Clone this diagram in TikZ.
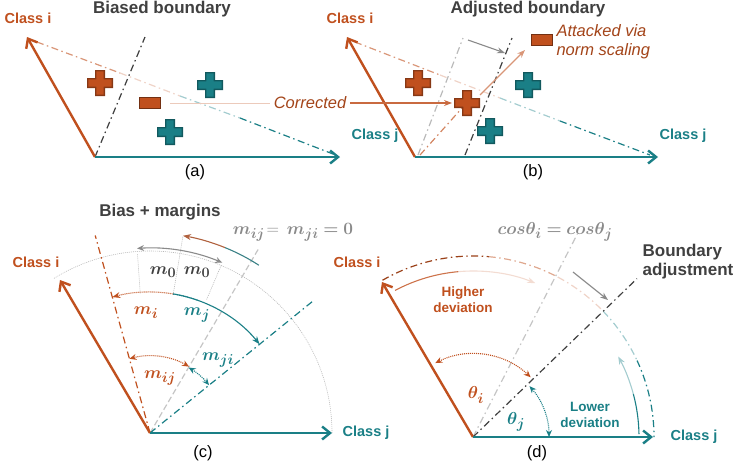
\documentclass[tikz,border=0pt]{standalone}
\usepackage{fontspec}
\setmainfont{Liberation Sans}
\usepackage{amsmath,bm}
\usetikzlibrary{arrows.meta,calc}
\definecolor{cor}{HTML}{C0501E}
\definecolor{ctl}{HTML}{1A7F86}
\definecolor{cdk}{HTML}{404040}
\definecolor{cgr}{HTML}{8A8A8A}
\begin{document}
\begin{tikzpicture}[x=1pt,y=-1pt,
 vec/.style={line width=2.4pt,-{Straight Barb[length=8pt,width=13pt]}},
 dd/.style={dash pattern=on 7pt off 3.5pt on 1.5pt off 3.5pt,line width=1.2pt},
 lbl/.style={font=\bfseries\fontsize{14.5}{15}\selectfont},
 ttl/.style={font=\bfseries\fontsize{17}{19}\selectfont,text=cdk},
 subcap/.style={font=\fontsize{16.5}{17}\selectfont},
 it/.style={font=\itshape\fontsize{16.5}{19}\selectfont,text=cor!85!black,align=left},
 mth/.style={font=\fontsize{19}{20}\selectfont},
 arr/.style={line width=1.1pt,-{Stealth[length=8pt,width=6pt]}},
 darr/.style={line width=1.1pt,{Stealth[length=7pt,width=6pt]}-{Stealth[length=7pt,width=6pt]}},
 dot/.style={dash pattern=on 1pt off 1pt}]
\useasboundingbox (0,0) rectangle (741,464);
\newcommand{\plusat}[3]{\fill[#2!70!black] ($(#1)+(-13,-5)$) -- ++(8,0) -- ++(0,-8) -- ++(10,0) -- ++(0,8) -- ++(8,0) -- ++(0,10) -- ++(-8,0) -- ++(0,8) -- ++(-10,0) -- ++(0,-8) -- ++(-8,0) -- cycle;
 \fill[#2] ($(#1)+(-11.6,-3.6)$) -- ++(8,0) -- ++(0,-8) -- ++(7.2,0) -- ++(0,8) -- ++(8,0) -- ++(0,7.2) -- ++(-8,0) -- ++(0,8) -- ++(-7.2,0) -- ++(0,-8) -- ++(-8,0) -- cycle;\node[#3] at (#1) {};}
\newcommand{\minusat}[1]{\draw[fill=cor,draw=cor!60!black,line width=0.8pt] ($(#1)+(-10.5,-5.5)$) rectangle ($(#1)+(10.5,5.5)$);}
% ---------- (a)
\coordinate (oa) at (95,157);
\coordinate (ia) at (27,37);
\coordinate (ja) at (340,157);
\node[ttl] (ta) at (162,9) {Biased boundary};
\node[lbl,text=cor] (lia) at (28,18) {Class i};
\node[lbl,text=ctl] (lja) at (375,136) {Class j};
\node[subcap] (ca) at (195,172) {(a)};
\draw[dd,cor!60] (37,42) -- (120,73);
\draw[dd,cor!25] (120,73) -- (180,96);
\draw[dd,ctl!40] (180,96) -- (240,118);
\draw[dd,ctl] (240,118) -- (333,154);
\draw[dd,cdk] (oa) -- (145,37);
\draw[vec,cor] (oa) -- (ia);
\draw[vec,ctl] (oa) -- (ja);
\plusat{100,83}{cor}{}
\minusat{150,103}
\plusat{210,85}{ctl}{}
\plusat{170,132}{ctl}{}
\node[it] (corr) at (310,103) {Corrected};
\draw[cor!30,line width=1pt] (170,103) -- (corr.west);
% ---------- (b)
\coordinate (ob) at (415,157);
\coordinate (ib) at (347,37);
\coordinate (jb) at (658,157);
\node[ttl] (tb) at (528,9) {Adjusted boundary};
\node[lbl,text=cor] (lib) at (350,18) {Class i};
\node[lbl,text=ctl] (ljb) at (683,136) {Class j};
\node[subcap] (cb) at (533,172) {(b)};
\draw[dd,cor!60] (355,42) -- (440,75);
\draw[dd,cor!25] (440,75) -- (500,98);
\draw[dd,ctl!40] (500,98) -- (560,121);
\draw[dd,ctl] (560,121) -- (650,155);
\draw[dd,cgr!60] (418,155) -- (463,38);
\draw[dd,cdk] (465,155) -- (512,38);
\draw[arr,cgr] (468,40) -- (505,53);
\draw[dd,cor!70] (420,155) -- (462,108);
\draw[arr,cor!60] (480,95) -- (525,50);
\draw[vec,cor] (ob) -- (ib);
\draw[vec,ctl] (ob) -- (jb);
\plusat{418,83}{cor}{}
\plusat{467,103}{cor}{}
\plusat{528,85}{ctl}{}
\plusat{490,131}{ctl}{}
\minusat{542,40}
\node[it,anchor=west] (att) at (553,42) {Attacked via\\norm scaling};
\draw[arr,cor!85] (corr.east) -- (452,103);
% ---------- (c)
\coordinate (oc) at (150,433);
\coordinate (ic) at (60,280);
\coordinate (jc) at (332,433);
\node[ttl] (tc) at (160,212) {Bias + margins};
\node[lbl,text=cor] (lic) at (36,262) {Class i};
\node[lbl,text=ctl] (ljc) at (366,433) {Class j};
\node[subcap] (cc) at (203,453) {(c)};
\draw[cgr!60,dot,line width=0.6pt] (jc) arc[start angle=0,end angle=-122,radius=182];
\draw[dd,cor] (oc) -- ++(-105.5:205);
\draw[dash pattern=on 6pt off 3pt,cgr!50,line width=1.2pt] (oc) -- ++(-59.5:215);
\draw[dd,ctl] (oc) -- ++(-39:212);
\draw[cgr!60,dot,line width=0.6pt] ($(oc)+(-94:140)$) -- ($(oc)+(-94:180)$);
\draw[cgr!60,dot,line width=0.6pt] ($(oc)+(-80.5:140)$) -- ($(oc)+(-80.5:200)$);
\draw[cgr!60,dot,line width=0.6pt] ($(oc)+(-67:145)$) -- ($(oc)+(-67:182)$);
\draw[darr,cgr] (oc) ++(-94:185) arc[start angle=-94,end angle=-67,radius=185];
\node[mth,text=cdk] (m0a) at (163,272) {$\bm{m_0}$};
\node[mth,text=cdk] (m0b) at (197,272) {$\bm{m_0}$};
\draw[line width=1.1pt,ctl!70!cgr] (oc) ++(-57:200) arc[start angle=-57,end angle=-68,radius=200];
\draw[arr,cor!70!cgr] (oc) ++(-68:200) arc[start angle=-68,end angle=-80.5,radius=200];
\node[mth,text=cgr] (mz) at (293,232) {$\bm{m_{ij}}\!=\,\bm{m_{ji}=0}$};
\draw[arr,cor,dot] (oc) ++(-80.5:141) arc[start angle=-80.5,end angle=-105.5,radius=141];
\draw[arr,ctl] (oc) ++(-80.5:141) arc[start angle=-80.5,end angle=-39,radius=141];
\draw[ctl,dot,line width=1.1pt] (oc) ++(-80.5:141) arc[start angle=-80.5,end angle=-70,radius=141];
\node[mth,text=cor] (mi) at (146,313) {$\bm{m_i}$};
\node[mth,text=ctl] (mj) at (197,315) {$\bm{m_j}$};
\draw[darr,cor,dot] (oc) ++(-105.5:77) arc[start angle=-105.5,end angle=-59.5,radius=77];
\draw[darr,ctl,dot] (oc) ++(-59.5:76) arc[start angle=-59.5,end angle=-39,radius=76];
\node[mth,text=cor] (mij) at (160,378) {$\bm{m_{ij}}$};
\node[mth,text=ctl] (mji) at (218,360) {$\bm{m_{ji}}$};
\draw[vec,cor] (oc) -- (ic);
\draw[vec,ctl] (oc) -- (jc);
% ---------- (d)
\coordinate (od) at (473,437);
\coordinate (id) at (382,282);
\coordinate (jd) at (653,437);
\node[lbl,text=cor,anchor=east] (lid) at (384,262) {Class i};
\node[lbl,text=ctl] (ljd) at (694,437) {Class j};
\node[subcap] (cd) at (537,453) {(d)};
\draw[dd,cor!80!black] (od) ++(-120:181) arc[start angle=-120,end angle=-85,radius=181];
\draw[dd,cor!50] (od) ++(-85:181) arc[start angle=-85,end angle=-62,radius=181];
\draw[dd,cor!25] (od) ++(-62:181) arc[start angle=-62,end angle=-44,radius=181];
\draw[dd,ctl!40] (od) ++(-44:181) arc[start angle=-44,end angle=-25,radius=181];
\draw[dd,ctl] (od) ++(-25:181) arc[start angle=-25,end angle=0,radius=181];
\draw[dd,cgr!50] (od) -- ++(-62.8:228);
\draw[dd,cdk] (od) -- ++(-44:228);
\node[mth,text=cgr] (cos) at (555,232) {$\bm{cos\theta_i=cos\theta_j}$};
\node[ttl,align=left] (ba) at (688,262) {Boundary\\adjustment};
\draw[arr,cgr] (573,272) -- (608,300);
\draw[line width=1.1pt,cor!80] (od) ++(-118:166) arc[start angle=-118,end angle=-95,radius=166];
\draw[arr,cor!20] (od) ++(-95:166) arc[start angle=-95,end angle=-68,radius=166];
\node[text=cor,align=center,font=\bfseries\fontsize{13.5}{16}\selectfont] (hd) at (463,300) {Higher\\deviation};
\draw[line width=1.1pt,ctl] (od) ++(-1:166) arc[start angle=-1,end angle=-15,radius=166];
\draw[arr,ctl!40] (od) ++(-15:166) arc[start angle=-15,end angle=-29,radius=166];
\node[text=ctl,align=center,font=\bfseries\fontsize{13.5}{16}\selectfont] (ld) at (590,415) {Lower\\deviation};
\draw[darr,cor,dot] (od) ++(-117:83) arc[start angle=-117,end angle=-46,radius=83];
\draw[darr,ctl,dot] (od) ++(-42:76) arc[start angle=-42,end angle=0,radius=76];
\node[mth,text=cor] (thi) at (476,395) {$\bm{\theta_i}$};
\node[mth,text=ctl] (thj) at (516,422) {$\bm{\theta_j}$};
\draw[vec,cor] (od) -- (id);
\draw[vec,ctl] (od) -- (jd);
\end{tikzpicture}
\end{document}
